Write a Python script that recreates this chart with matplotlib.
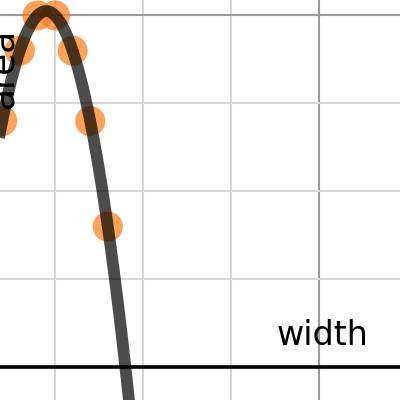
import numpy as np
import matplotlib
matplotlib.use("Agg")
import matplotlib.pyplot as plt

# data
widths = [1, 2, 3, 4, 5, 6, 7, 8]
areas = [8, 14, 18, 20, 20, 18, 14, 8]
# fitted curve: area = -w^2 + 9w
curve_coeffs = [-1, 9, 0]
x_label = "width"
y_label = "area"

fig = plt.figure(figsize=(4, 4), dpi=100)
ax = fig.add_axes([0, 0, 1, 1])
ax.set_xlim(1.875, 24.6)
ax.set_ylim(-1.85, 20.88)
ax.axis("off")

# grid
for gx in np.arange(0, 30, 5):
    c = "#9a9a9a" if gx % 20 == 0 else "#d6d6d6"
    ax.axvline(gx, color=c, lw=1.5, zorder=0)
for gy in np.arange(5, 25, 5):
    c = "#9a9a9a" if gy % 20 == 0 else "#d6d6d6"
    ax.axhline(gy, color=c, lw=1.5, zorder=0)
# x axis
ax.axhline(0, color="black", lw=2.6, zorder=1)

ax.scatter(widths, areas, s=470, color="#fa7e19", alpha=0.72,
           edgecolors="none", zorder=2)

xs = np.linspace(-1, 10, 400)
ax.plot(xs, np.polyval(curve_coeffs, xs), color="black", alpha=0.7,
        lw=8.5, solid_capstyle="butt", zorder=3)

ax.text(22.8, 1.28, x_label, fontsize=24, family="DejaVu Sans",
        ha="right", va="baseline", zorder=4)
ax.text(2.55, 14.75, y_label, fontsize=26, family="DejaVu Sans",
        rotation=90, ha="left", va="baseline", rotation_mode="anchor",
        zorder=4)

fig.savefig("out.png", dpi=100)
